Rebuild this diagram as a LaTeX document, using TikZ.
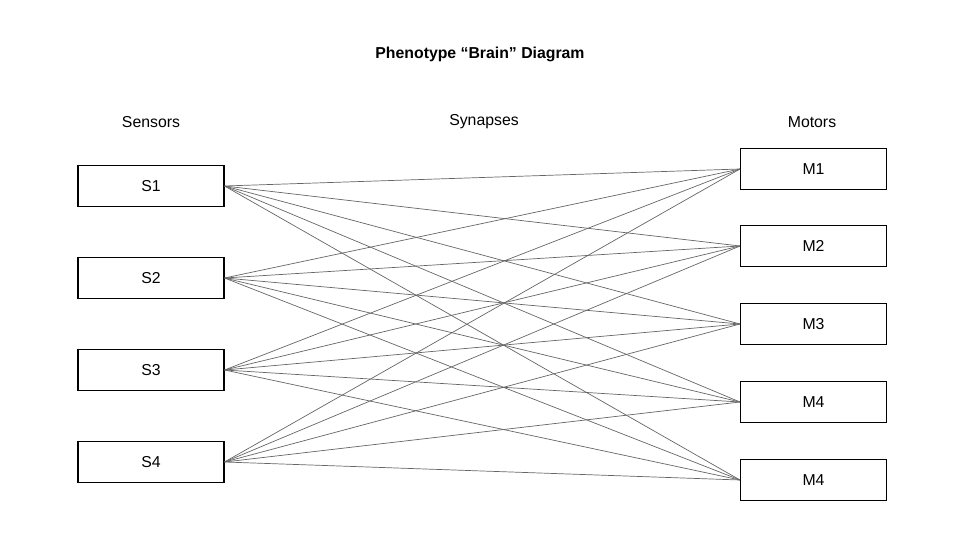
\documentclass[tikz,border=0pt]{standalone}
\usepackage{fontspec}
\setmainfont{Liberation Sans}
\tikzstyle{every path}=[line width=0.6pt]
\tikzstyle{unit}=[draw, minimum width=2.92cm, minimum height=0.82cm, inner sep=0pt, font=\fontsize{9}{11}\selectfont]
\tikzstyle{head}=[font=\fontsize{9}{11}\selectfont]
\tikzstyle{synapse}=[line width=0.4pt, draw=black!60]
\begin{document}
\begin{tikzpicture}[x=0.02cm, y=-0.02cm]
            \useasboundingbox (0, 0) rectangle (960, 540);
            \node[font=\bfseries\fontsize{9}{11}\selectfont] (title) at (480, 54) {Phenotype “Brain” Diagram};
            \node[head] (sensors) at (151, 122) {Sensors};
            \node[head] (synapses) at (484, 122) {Synapses};
            \node[head] (motors) at (812, 122) {Motors};

            \node[unit] (s1) at (151, 186) {S1};
            \node[unit] (s2) at (151, 278) {S2};
            \node[unit] (s3) at (151, 370) {S3};
            \node[unit] (s4) at (151, 462) {S4};

            \node[unit] (m1) at (813.5, 169) {M1};
            \node[unit] (m2) at (813.5, 246) {M2};
            \node[unit] (m3) at (813.5, 324) {M3};
            \node[unit] (m4) at (813.5, 402) {M4};
            \node[unit] (m5) at (813.5, 480) {M4};

            \foreach \s in {s1, s2, s3, s4}
                \foreach \m in {m1, m2, m3, m4, m5}
                    \draw[synapse] (\s.east) -- (\m.west);
        \end{tikzpicture}
\end{document}
